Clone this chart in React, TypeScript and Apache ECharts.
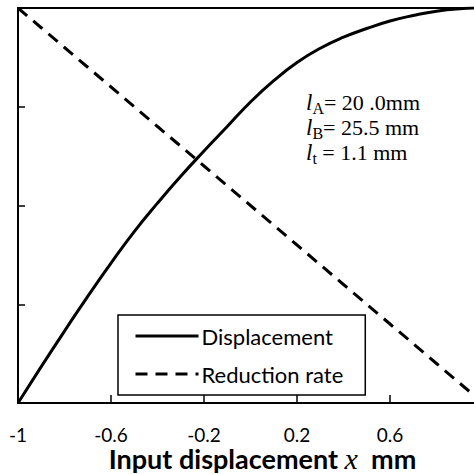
import { useEffect, useRef } from "react"
import * as echarts from "echarts"

const xValues = [-1, -0.9, -0.8, -0.7, -0.6, -0.5, -0.4, -0.3, -0.2, -0.1, 0, 0.1, 0.2, 0.3, 0.4, 0.5, 0.6, 0.7, 0.8, 0.9, 1]
const displacement = [0, 0.092, 0.182, 0.27, 0.354, 0.434, 0.506, 0.574, 0.638, 0.7, 0.762, 0.816, 0.862, 0.898, 0.926, 0.948, 0.967, 0.981, 0.992, 0.998, 1]
const reductionRate = [1, 0.95, 0.9, 0.85, 0.8, 0.75, 0.7, 0.65, 0.6, 0.55, 0.5, 0.45, 0.4, 0.35, 0.3, 0.25, 0.2, 0.15, 0.1, 0.05, 0]
const xTicks = [-1, -0.6, -0.2, 0.2, 0.6, 1]
// the label at 1 falls outside the cropped picture
const xLabels = [-1, -0.6, -0.2, 0.2, 0.6]
const yTicks = [0, 0.25, 0.5, 0.75, 1]
const params = [
  { sym: "A", text: "= 20 .0mm" },
  { sym: "B", text: "= 25.5 mm" },
  { sym: "t", text: " = 1.1 mm" },
]

export default function App() {
  const chartRef = useRef<HTMLDivElement>(null)

  useEffect(() => {
    if (!chartRef.current) return
    const chart = echarts.init(chartRef.current, null, { renderer: "svg" })

    const sans = "Lato, 'Open Sans', sans-serif"
    const serif = "'Liberation Serif', 'DejaVu Serif', serif"

    const option: echarts.EChartsOption = {
      animation: false,
      backgroundColor: "#fff",
      // the plot runs past the right edge of the picture, as in the cropped original
      grid: {
        left: 18, top: 8, width: 465, height: 395,
        containLabel: false, outerBoundsMode: "none",
        show: true, borderColor: "#000", borderWidth: 2,
      } as any,
      legend: {
        orient: "vertical",
        left: 118,
        top: 315,
        padding: [10, 22, 10, 16],
        itemWidth: 63,
        itemHeight: 14,
        itemGap: 16,
        borderColor: "#000",
        borderWidth: 1.5,
        itemStyle: { opacity: 0 },
        lineStyle: { width: 3 },
        textStyle: { fontFamily: sans, fontSize: 22, color: "#000", padding: [0, 0, 0, -2] },
        data: ["Displacement", "Reduction rate"],
      },
      xAxis: {
        type: "value",
        min: -1,
        max: 1,
        splitLine: { show: false },
        axisLine: { onZero: false, lineStyle: { color: "#000", width: 2 } },
        axisTick: { inside: true, length: 8, lineStyle: { color: "#000", width: 1.5 }, customValues: xTicks },
        axisLabel: { margin: 22, fontFamily: sans, fontSize: 19, lineHeight: 19, color: "#000", customValues: xLabels },
        name: "{b|Input displacement }{i|x}{b|  mm}",
        nameLocation: "middle",
        nameGap: 41,
        nameMoveOverlap: false,
        nameTextStyle: {
          padding: [0, 0, 0, 24],
          lineHeight: 28,
          rich: {
            b: { fontFamily: sans, fontWeight: "bold", fontSize: 27, color: "#000", lineHeight: 28 },
            i: { fontFamily: serif, fontStyle: "italic", fontSize: 30, color: "#000", lineHeight: 28 },
          },
        },
      } as any,
      yAxis: {
        type: "value",
        min: 0,
        max: 1,
        splitLine: { show: false },
        axisLine: { onZero: false, lineStyle: { color: "#000", width: 2 } },
        axisTick: { inside: true, length: 7, lineStyle: { color: "#000", width: 1.5 }, customValues: yTicks },
        axisLabel: { show: false },
      },
      graphic: params.map((p, i) => ({
        type: "text",
        left: 306,
        top: 91 + i * 25,
        style: {
          text: `{l|l}{s|${p.sym}}{n|${p.text}}`,
          rich: {
            l: { fontFamily: serif, fontStyle: "italic", fontSize: 23, fill: "#000" },
            s: { fontFamily: serif, fontSize: 16, fill: "#000", padding: [12, 0, 0, 0] },
            n: { fontFamily: serif, fontSize: 22, fill: "#000" },
          },
        },
      })),
      series: [
        {
          name: "Displacement",
          type: "line",
          data: xValues.map((x, i) => [x, displacement[i]]),
          smooth: true,
          symbol: "none",
          lineStyle: { color: "#000", width: 3 },
          itemStyle: { color: "#000" },
        },
        {
          name: "Reduction rate",
          type: "line",
          data: xValues.map((x, i) => [x, reductionRate[i]]),
          symbol: "none",
          lineStyle: { color: "#000", width: 3, type: [12, 8] },
          itemStyle: { color: "#000" },
        },
      ],
    }

    chart.setOption(option)
    return () => chart.dispose()
  }, [])

  return <div ref={chartRef} style={{ position: "fixed", left: 0, top: 0, width: 474, height: 474 }} />
}
